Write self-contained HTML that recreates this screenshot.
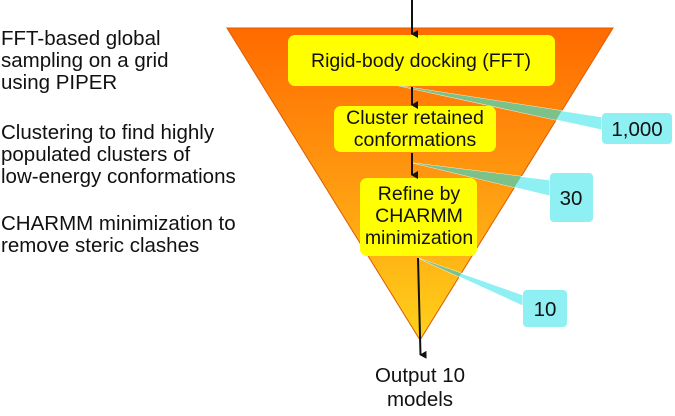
<!DOCTYPE html>
<html><head><style>
body{margin:0;background:#fff;}
svg text{font-family:"Liberation Sans",Arial,sans-serif;fill:#111;}
</style></head><body>
<svg width="675" height="411" viewBox="0 0 675 411" xmlns="http://www.w3.org/2000/svg">
<defs>
<linearGradient id="g" x1="0" y1="0" x2="0" y2="1">
<stop offset="0" stop-color="#ff6a00"/>
<stop offset="0.5" stop-color="#ff9a10"/>
<stop offset="1" stop-color="#ffd21a"/>
</linearGradient>
<clipPath id="tri"><polygon points="227,28 613,28 420,340"/></clipPath>
<marker id="ah" markerWidth="8" markerHeight="8" refX="4" refY="6" orient="auto" markerUnits="userSpaceOnUse">
<path d="M0,0 L4,7 L8,0 Z" fill="#111"/></marker>
</defs>
<polygon points="227,28 613,28 420,340" fill="url(#g)" stroke="#e05a00" stroke-width="1"/>
<g>
<polygon points="395,85 602,117 602,130" fill="#8ff0f4" stroke="#fff" stroke-width="0.8"/>
<polygon points="413,163 550,180 550,196" fill="#8ff0f4" stroke="#fff" stroke-width="0.8"/>
<polygon points="418,258 523,295 523,306" fill="#8ff0f4" stroke="#fff" stroke-width="0.8"/>
<g clip-path="url(#tri)">
<polygon points="395,85 602,117 602,130" fill="#7cc08a"/>
<polygon points="413,163 550,180 550,196" fill="#7cc08a"/>
<polygon points="418,258 523,295 523,306" fill="#7cc08a"/>
</g>
</g>
<rect x="288" y="35" width="267" height="51" rx="7" fill="#ffff00"/>
<rect x="334" y="106" width="162" height="46" rx="7" fill="#ffff00"/>
<rect x="360" y="178" width="117" height="78" rx="7" fill="#ffff00"/>
<g font-size="19.5">
<text x="421" y="67" text-anchor="middle">Rigid-body docking (FFT)</text>
<text x="415" y="124" text-anchor="middle">Cluster retained</text>
<text x="415" y="146" text-anchor="middle">conformations</text>
<text x="419" y="200" text-anchor="middle">Refine by</text>
<text x="419" y="222" text-anchor="middle">CHARMM</text>
<text x="419" y="244" text-anchor="middle">minimization</text>
</g>
<line x1="412" y1="0" x2="412" y2="34" stroke="#111" stroke-width="2" marker-end="url(#ah)"/>
<line x1="412" y1="87" x2="412" y2="105" stroke="#111" stroke-width="2" marker-end="url(#ah)"/>
<line x1="412" y1="153" x2="412" y2="175" stroke="#111" stroke-width="2" marker-end="url(#ah)"/>
<line x1="418" y1="258" x2="420.5" y2="355" stroke="#111" stroke-width="2" marker-end="url(#ah)"/>
<rect x="602" y="113" width="70" height="31" rx="4" fill="#8ff0f4"/>
<rect x="550" y="173" width="43" height="49" rx="4" fill="#8ff0f4"/>
<rect x="523" y="290" width="44" height="37" rx="4" fill="#8ff0f4"/>
<g font-size="20.5">
<text x="637" y="136" text-anchor="middle">1,000</text>
<text x="571" y="205" text-anchor="middle">30</text>
<text x="545" y="316" text-anchor="middle">10</text>
<text x="420" y="382" text-anchor="middle">Output 10</text>
<text x="420" y="406" text-anchor="middle">models</text>
</g>
<g font-size="20.5">
<text x="1" y="45">FFT-based global</text>
<text x="1" y="67">sampling on a grid</text>
<text x="1" y="89">using PIPER</text>
<text x="1" y="139">Clustering to find highly</text>
<text x="1" y="161">populated clusters of</text>
<text x="1" y="183">low-energy conformations</text>
<text x="1" y="230">CHARMM minimization to</text>
<text x="1" y="252">remove steric clashes</text>
</g>
</svg>
</body></html>
